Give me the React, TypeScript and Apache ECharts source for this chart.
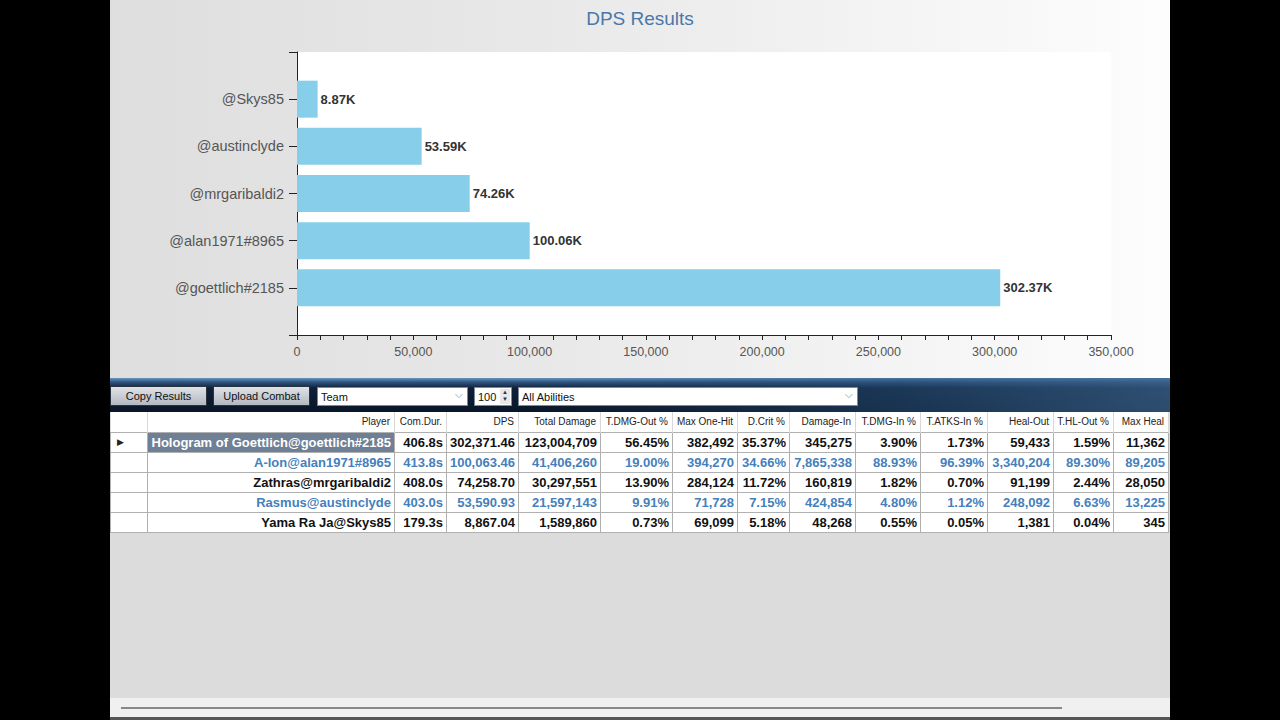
import React, { useEffect, useRef } from "react";
import * as echarts from "echarts";

const chartTitle = "DPS Results";
const categories = ["", "@goettlich#2185", "@alan1971#8965", "@mrgaribaldi2", "@austinclyde", "@Skys85", ""];
const dpsValues: (number | null)[] = [null, 302371.46, 100063.46, 74258.7, 53590.93, 8867.04, null];
const xTicks = [0, 50000, 100000, 150000, 200000, 250000, 300000, 350000];

const tableHeaders = ["Player", "Com.Dur.", "DPS", "Total Damage", "T.DMG-Out %", "Max One-Hit", "D.Crit %", "Damage-In", "T.DMG-In %", "T.ATKS-In %", "Heal-Out", "T.HL-Out %", "Max Heal"];
const players = ["Hologram of Goettlich@goettlich#2185", "A-lon@alan1971#8965", "Zathras@mrgaribaldi2", "Rasmus@austinclyde", "Yama Ra Ja@Skys85"];
const comDur = ["406.8s", "413.8s", "408.0s", "403.0s", "179.3s"];
const dpsText = ["302,371.46", "100,063.46", "74,258.70", "53,590.93", "8,867.04"];
const totalDamage = ["123,004,709", "41,406,260", "30,297,551", "21,597,143", "1,589,860"];
const tDmgOut = ["56.45%", "19.00%", "13.90%", "9.91%", "0.73%"];
const maxOneHit = ["382,492", "394,270", "284,124", "71,728", "69,099"];
const dCrit = ["35.37%", "34.66%", "11.72%", "7.15%", "5.18%"];
const damageIn = ["345,275", "7,865,338", "160,819", "424,854", "48,268"];
const tDmgIn = ["3.90%", "88.93%", "1.82%", "4.80%", "0.55%"];
const tAtksIn = ["1.73%", "96.39%", "0.70%", "1.12%", "0.05%"];
const healOut = ["59,433", "3,340,204", "91,199", "248,092", "1,381"];
const tHlOut = ["1.59%", "89.30%", "2.44%", "6.63%", "0.04%"];
const maxHeal = ["11,362", "89,205", "28,050", "13,225", "345"];
const colWidths = [37, 247, 52, 72, 82, 72, 65, 52, 66, 65, 67, 66, 60, 55];

const FONT = "'Liberation Sans', Arial, sans-serif";

function Chart() {
  const ref = useRef<HTMLDivElement>(null);
  useEffect(() => {
    if (!ref.current) return;
    const chart = echarts.init(ref.current, null, { renderer: "svg" });
    chart.setOption({
      animation: false,
      backgroundColor: "transparent",
      textStyle: { fontFamily: FONT },
      title: {
        text: chartTitle,
        left: "center",
        top: 4,
        textStyle: { color: "#4a78a8", fontSize: 19, fontWeight: "normal", fontFamily: FONT },
      },
      grid: { left: 187, right: 59, top: 52, bottom: 43, show: true, backgroundColor: "#ffffff", borderWidth: 0 },
      xAxis: {
        type: "value",
        min: xTicks[0],
        max: xTicks[xTicks.length - 1],
        interval: xTicks[1] - xTicks[0],
        axisLine: { show: true, lineStyle: { color: "#222", width: 1 } },
        axisTick: { show: true, length: 5, lineStyle: { color: "#222" } },
        minorTick: { show: true, splitNumber: 5, length: 5, lineStyle: { color: "#222" } },
        splitLine: { show: false },
        axisLabel: {
          color: "#555",
          fontSize: 12.5,
          margin: 10,
          formatter: (v: number) => v.toLocaleString("en-US"),
        },
      },
      yAxis: {
        type: "category",
        data: categories,
        boundaryGap: false,
        axisLine: { show: true, lineStyle: { color: "#222", width: 1 } },
        axisTick: { show: true, length: 8, interval: 0, lineStyle: { color: "#222" } },
        axisLabel: { color: "#555", fontSize: 14.5, margin: 13, interval: 0 },
        splitLine: { show: false },
      },
      series: [
        {
          type: "bar",
          data: dpsValues,
          barWidth: 37,
          itemStyle: { color: "#87ceeb" },
          label: {
            show: true,
            position: "right",
            distance: 3,
            color: "#333",
            fontSize: 13,
            fontWeight: "bold",
            formatter: (p: any) => (p.value == null ? "" : (p.value / 1000).toFixed(2) + "K"),
          },
        },
      ],
    });
    return () => chart.dispose();
  }, []);
  return (
    <div
      ref={ref}
      style={{
        position: "absolute",
        left: 110,
        top: 0,
        width: 1060,
        height: 378,
        background: "linear-gradient(to right, #dedede 0%, #e8e8e8 40%, #f6f6f6 80%, #fdfdfd 100%)",
      }}
    />
  );
}

const btnStyle: React.CSSProperties = {
  position: "absolute",
  top: 386,
  height: 20,
  width: 97,
  background: "linear-gradient(#dfe3e8, #b3b9c0)",
  border: "1px solid #2a3440",
  boxSizing: "border-box",
  fontFamily: FONT,
  fontSize: 11,
  color: "#111",
  display: "flex",
  alignItems: "center",
  justifyContent: "center",
};

const selStyle: React.CSSProperties = {
  position: "absolute",
  top: 387,
  height: 19,
  background: "#fff",
  border: "1px solid #7a8a9a",
  boxSizing: "border-box",
  fontFamily: FONT,
  fontSize: 11,
  color: "#111",
  display: "flex",
  alignItems: "center",
  paddingLeft: 3,
};

function Toolbar() {
  return (
    <div>
      <div
        style={{
          position: "absolute",
          left: 110,
          top: 378,
          width: 1060,
          height: 34,
          background:
            "linear-gradient(to bottom, #6b93bb 0px, #2f5680 4px, #0f2038 10px, #0a1628 100%)",
        }}
      />
      <div
        style={{
          position: "absolute",
          left: 110,
          top: 378,
          width: 1060,
          height: 34,
          background: "linear-gradient(to right, rgba(0,0,0,0) 40%, rgba(40,80,120,0.5) 75%, rgba(60,100,140,0.7) 100%)",
        }}
      />
      <div style={{ ...btnStyle, left: 110 }}>Copy Results</div>
      <div style={{ ...btnStyle, left: 213 }}>Upload Combat</div>
      <div style={{ ...selStyle, left: 317, width: 151 }}>
        Team
        <span style={{ position: "absolute", right: 4, top: 1, color: "#888", fontSize: 10 }}>⌵</span>
      </div>
      <div style={{ ...selStyle, left: 474, width: 38 }}>
        100
        <span style={{ position: "absolute", right: 1, top: 1, width: 10, height: 15, background: "#e8e8e8", fontSize: 6, lineHeight: "7px", textAlign: "center", color: "#333" }}>
          ▲<br />▼
        </span>
      </div>
      <div style={{ ...selStyle, left: 518, width: 340 }}>
        All Abilities
        <span style={{ position: "absolute", right: 4, top: 1, color: "#888", fontSize: 10 }}>⌵</span>
      </div>
    </div>
  );
}

function Table() {
  const cols = [players, comDur, dpsText, totalDamage, tDmgOut, maxOneHit, dCrit, damageIn, tDmgIn, tAtksIn, healOut, tHlOut, maxHeal];
  const border = "1px solid #b0b0b0";
  return (
    <div style={{ position: "absolute", left: 110, top: 412, width: 1060, height: 286, background: "#dcdcdc" }}>
      <table
        style={{
          borderCollapse: "collapse",
          tableLayout: "fixed",
          width: 1058,
          fontFamily: FONT,
        }}
      >
        <colgroup>
          {colWidths.map((w, i) => (
            <col key={i} style={{ width: w }} />
          ))}
        </colgroup>
        <tbody>
          <tr style={{ height: 20, background: "#fff" }}>
            <td style={{ borderRight: "1px solid #d8d8d8", padding: 0 }} />
            {tableHeaders.map((h, i) => (
              <td
                key={i}
                style={{
                  textAlign: "right",
                  fontSize: 10,
                  color: "#222",
                  padding: "0 4px 0 0",
                  borderRight: "1px solid #d8d8d8",
                  whiteSpace: "nowrap",
                  overflow: "hidden",
                }}
              >
                {h}
              </td>
            ))}
          </tr>
          {players.map((_, r) => (
            <tr key={r} style={{ height: 20, background: "#fff" }}>
              <td style={{ border, padding: "0 0 0 6px", fontSize: 9, color: "#222" }}>{r === 0 ? "▶" : ""}</td>
              {cols.map((c, i) => {
                const selected = r === 0 && i === 0;
                return (
                  <td
                    key={i}
                    style={{
                      border,
                      textAlign: "right",
                      fontSize: 13,
                      fontWeight: "bold",
                      padding: "0 3px 0 0",
                      whiteSpace: "nowrap",
                      overflow: "hidden",
                      color: selected ? "#fff" : r % 2 === 1 ? "#4580bb" : "#111",
                      background: selected ? "#6f7f95" : "#fff",
                    }}
                  >
                    {c[r]}
                  </td>
                );
              })}
            </tr>
          ))}
        </tbody>
      </table>
    </div>
  );
}

export default function App() {
  return (
    <div style={{ position: "fixed", left: 0, top: 0, width: 1280, height: 720, background: "#000", overflow: "hidden" }}>
      <Chart />
      <Toolbar />
      <Table />
      <div style={{ position: "absolute", left: 110, top: 698, width: 1060, height: 19, background: "#f0f0f0" }} />
      <div style={{ position: "absolute", left: 121, top: 707, width: 941, height: 2, background: "#888" }} />
      <div style={{ position: "absolute", left: 110, top: 717, width: 1060, height: 3, background: "#555" }} />
    </div>
  );
}
